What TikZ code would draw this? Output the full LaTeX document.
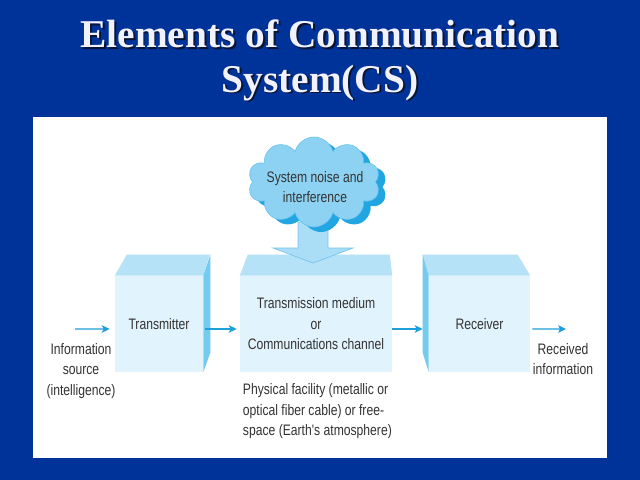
\documentclass[tikz,border=0pt]{standalone}
\usepackage{fontspec}
\setmainfont{Liberation Serif}
\newfontfamily\figfont[FakeStretch=0.8]{Liberation Sans}
\usetikzlibrary{shapes.symbols,arrows.meta,calc,positioning}
\definecolor{bgblue}{HTML}{003399}
\definecolor{facefront}{HTML}{E1F3FC}
\definecolor{facetop}{HTML}{B6E2F8}
\definecolor{faceside}{HTML}{74CBF0}
\definecolor{cloudfill}{HTML}{8DD2F3}
\definecolor{cloudshade}{HTML}{22A6E2}
\definecolor{bigfill}{HTML}{AADDF6}
\definecolor{bigline}{HTML}{78C4EB}
\definecolor{flowcyan}{HTML}{1E9FD8}
\definecolor{figtext}{HTML}{333333}
\definecolor{titleshadow}{HTML}{0A1433}
\tikzset{
    titletext/.style={text=white!95!blue, anchor=base, inner sep=0, font=\fontsize{28}{32}\selectfont\bfseries},
    titleshade/.style={titletext, text=titleshadow},
    figfnt/.style={font=\figfont\fontsize{10.8}{14.6}\selectfont},
    front/.style={fill=facefront, inner sep=0, text=figtext, align=center, figfnt},
    label/.style={inner sep=0, text=figtext, figfnt},
    puff/.style={cloud, cloud puffs=10, cloud ignores aspect, minimum width=3.3cm, minimum height=2.25cm},
    flow/.style={flowcyan, line width=0.75pt, -{Stealth[length=0.2cm, width=0.19cm, inset=0.05cm]}},
}

\begin{document}
\begin{tikzpicture}[x=0.025cm, y=-0.025cm]
\fill[bgblue] (0,0) rectangle (640,480);
% title
\node[titleshade] at (321.8,49.8) {Elements of Communication};
\node[titleshade] at (321.8,93.8) {System(CS)};
\node[titletext] (title1) at (320,48) {Elements of Communication};
\node[titletext] (title2) at (320,92) {System(CS)};
\fill[white] (33,117) rectangle (607,458);

% the three blocks
\node[front, minimum width=2.2cm, minimum height=2.4cm] (tx) at (159,324) {Transmitter};
\node[front, minimum width=3.8cm, minimum height=2.4cm] (med) at (316,324) {Transmission medium\\or\\Communications channel};
\node[front, minimum width=2.525cm, minimum height=2.4cm] (rx) at (479.5,324) {Receiver};

\fill[facetop] (tx.north west) -- ++(12,-21) -- ++(83,0) -- (tx.north east) -- cycle;
\fill[faceside] (tx.north east) -- ++(7,-21) -- ++(0,98) -- (tx.south east) -- cycle;
\fill[facetop] (med.north west) -- ++(8,-21) -- ++(142,0) -- (med.north east) -- cycle;
\fill[facetop] (rx.north west) -- ++(-6,-21) -- ++(95,0) -- (rx.north east) -- cycle;
\fill[faceside] (rx.north west) -- ++(-6,-21) -- ++(0,98) -- (rx.south west) -- cycle;

% noise
\filldraw[fill=bigfill, draw=bigline, line width=0.5pt] (298,222) -- (328,222) -- (328,248) -- (353,248)
    -- (313,263) -- (273,248) -- (298,248) -- cycle;
\node[puff, fill=cloudshade] (shade) at (321,187) {};
\node[puff, fill=cloudfill, draw=cloudshade!70, line width=0.4pt] (noise) at (314,182) {};
\node[label, align=center] (noisetext) at (315,187) {System noise and\\interference};

% labels
\node[label, align=center] (src) at (81,371) {Information\\source\\(intelligence)};
\node[label, align=center] (dst) at (563,359) {Received\\information};
\node[label, align=left, anchor=north west] (phys) at ($(med.south west)+(3,11)$)
    {Physical facility (metallic or\\optical fiber cable) or free-\\space (Earth's atmosphere)};

% signal flow
\coordinate (in) at (75,329);
\coordinate (out) at (566,329);
\draw[flow] (in) -- ([xshift=-0.125cm, yshift=-0.125cm]tx.west);
\draw[flow] ([xshift=0.05cm, yshift=-0.125cm]tx.east) -- ([xshift=-0.075cm, yshift=-0.125cm]med.west);
\draw[flow] ([yshift=-0.125cm]med.east) -- ([xshift=-0.15cm, yshift=-0.125cm]rx.west);
\draw[flow] ([xshift=0.05cm, yshift=-0.125cm]rx.east) -- (out);
\end{tikzpicture}
\end{document}
